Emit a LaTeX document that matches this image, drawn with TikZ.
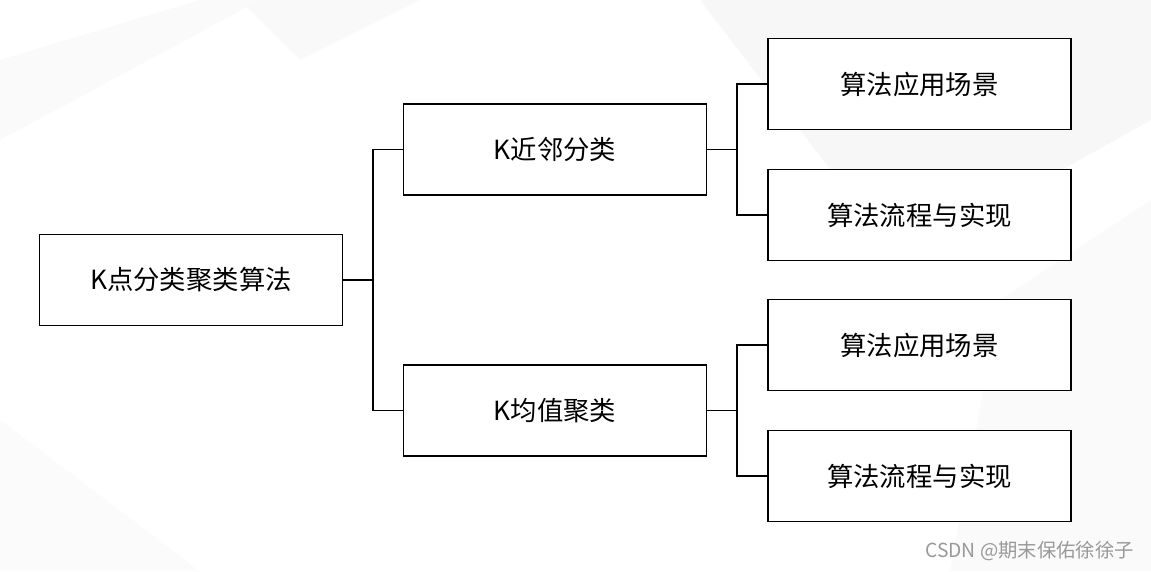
\documentclass[tikz,border=0pt]{standalone}
\usepackage{fontspec}
\setmainfont{Noto Sans CJK SC}
\usetikzlibrary{positioning}
\begin{document}
\begin{tikzpicture}[x=0.02cm,y=-0.02cm,
  box/.style={draw,thick,fill=white,minimum width=6.06cm,minimum height=1.82cm,inner sep=0pt,font=\fontsize{15}{18}\selectfont},
  link/.style={thick}]
  \fill[white](0,0) rectangle (1151,571);
  \useasboundingbox (0,0) rectangle (1151,571);
  % faint background shapes
  \fill[gray!5](240,0)--(420,0)--(300,60)--cycle;
  \fill[gray!4](0,60)--(200,0)--(260,0)--(0,140)--cycle;
  \fill[gray!6](700,0)--(1151,0)--(1151,120)--(900,260)--cycle;
  \fill[gray!4](1000,300)--(1151,200)--(1151,571)--(950,571)--cycle;
  \fill[gray!3](0,420)--(200,571)--(0,571)--cycle;
  \node[box] (root) at (191,280) {K点分类聚类算法};
  \node[box] (knn) at (555,149.5) {K近邻分类};
  \node[box] (kmeans) at (555,410.5) {K均值聚类};
  \node[box] (knn1) at (919.5,84) {算法应用场景};
  \node[box] (knn2) at (919.5,215) {算法流程与实现};
  \node[box] (km1) at (919.5,345) {算法应用场景};
  \node[box] (km2) at (919.5,476) {算法流程与实现};
  \draw[link](root.east)--++(30,0) coordinate (j0);
  \draw[link](j0)|-(knn.west);
  \draw[link](j0)|-(kmeans.west);
  \draw[link](knn.east)--++(30,0) coordinate (j1);
  \draw[link](j1)|-(knn1.west);
  \draw[link](j1)|-(knn2.west);
  \draw[link](kmeans.east)--++(30,0) coordinate (j2);
  \draw[link](j2)|-(km1.west);
  \draw[link](j2)|-(km2.west);
  \node[anchor=east,text=gray!80,font=\fontsize{11}{13}\selectfont] (mark) at (1140,551) {CSDN @期末保佑徐徐子};
\end{tikzpicture}
\end{document}
